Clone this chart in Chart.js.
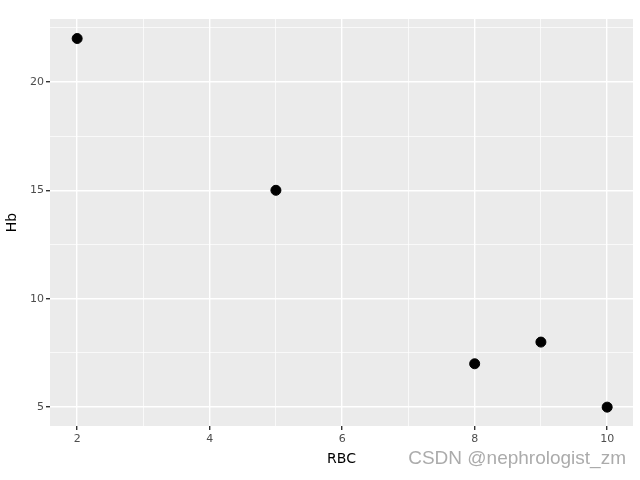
<!DOCTYPE html>
<html lang="en">
<head>
<meta charset="UTF-8">
<title>Hb vs RBC</title>
<script src="https://cdn.jsdelivr.net/npm/chart.js"></script>
<style>
    body { margin: 0; background: #fff; }
    .wrap { position: relative; width: 640px; height: 480px; }
    .mark {
        position: absolute;
        right: 14px;
        top: 447px;
        font-family: "Liberation Sans", Arial, sans-serif;
        font-size: 19px;
        color: rgba(150,150,150,0.8);
    }
</style>
</head>
<body>
<div class="wrap">
    <canvas id="chart" width="640" height="480"></canvas>
    <div class="mark">CSDN @nephrologist_zm</div>
</div>
<script>
// data
const rbc = [2, 5, 8, 9, 10];
const hb = [22, 15, 7, 8, 5];

// ticks (major + minor grid lines)
const xTicks = [2, 3, 4, 5, 6, 7, 8, 9, 10];
const xMajor = [2, 4, 6, 8, 10];
const yTicks = [5, 7.5, 10, 12.5, 15, 17.5, 20, 22.5];
const yMajor = [5, 10, 15, 20];

const panelBg = {
    id: 'panelBg',
    beforeDraw(chart) {
        const a = chart.chartArea;
        const ctx = chart.ctx;
        ctx.save();
        ctx.fillStyle = '#EBEBEB';
        ctx.fillRect(a.left, a.top, a.right - a.left, a.bottom - a.top);
        ctx.restore();
    }
};

function gridFor(major) {
    return {
        color: '#FFFFFF',
        lineWidth: c => major.includes(c.tick && c.tick.value) ? 1.4 : 0.7,
        tickColor: c => major.includes(c.tick && c.tick.value) ? '#333333' : 'rgba(0,0,0,0)',
        tickLength: 4,
        drawOnChartArea: true
    };
}

new Chart(document.getElementById('chart'), {
    type: 'scatter',
    data: {
        datasets: [{
            data: rbc.map((x, i) => ({ x: x, y: hb[i] })),
            backgroundColor: '#000000',
            borderColor: '#000000',
            pointRadius: 5,
            pointHoverRadius: 5
        }]
    },
    options: {
        responsive: false,
        animation: false,
        layout: { padding: { top: 19, right: 7, left: 0, bottom: 0 } },
        plugins: { legend: { display: false }, tooltip: { enabled: false } },
        scales: {
            x: {
                type: 'linear',
                min: 1.59,
                max: 10.39,
                afterBuildTicks: s => { s.ticks = xTicks.map(v => ({ value: v })); },
                afterFit: s => { s.height = 54; },
                grid: gridFor(xMajor),
                border: { display: false },
                ticks: {
                    autoSkip: false,
                    maxRotation: 0,
                    padding: 3,
                    color: '#4D4D4D',
                    font: { family: 'DejaVu Sans', size: 11 },
                    callback: v => xMajor.includes(v) ? String(v) : ''
                },
                title: {
                    display: true,
                    text: 'RBC',
                    color: '#000000',
                    font: { family: 'DejaVu Sans', size: 14 },
                    padding: { top: 0, bottom: 12 }
                }
            },
            y: {
                type: 'linear',
                min: 4.13,
                max: 22.9,
                afterBuildTicks: s => { s.ticks = yTicks.map(v => ({ value: v })); },
                afterFit: s => { s.width = 50; },
                grid: gridFor(yMajor),
                border: { display: false },
                ticks: {
                    autoSkip: false,
                    padding: 2,
                    color: '#4D4D4D',
                    font: { family: 'DejaVu Sans', size: 11 },
                    callback: v => yMajor.includes(v) ? String(v) : ''
                },
                title: {
                    display: true,
                    text: 'Hb',
                    color: '#000000',
                    font: { family: 'DejaVu Sans', size: 14 },
                    padding: { top: 4, bottom: 0 }
                }
            }
        }
    },
    plugins: [panelBg]
});
</script>
</body>
</html>
